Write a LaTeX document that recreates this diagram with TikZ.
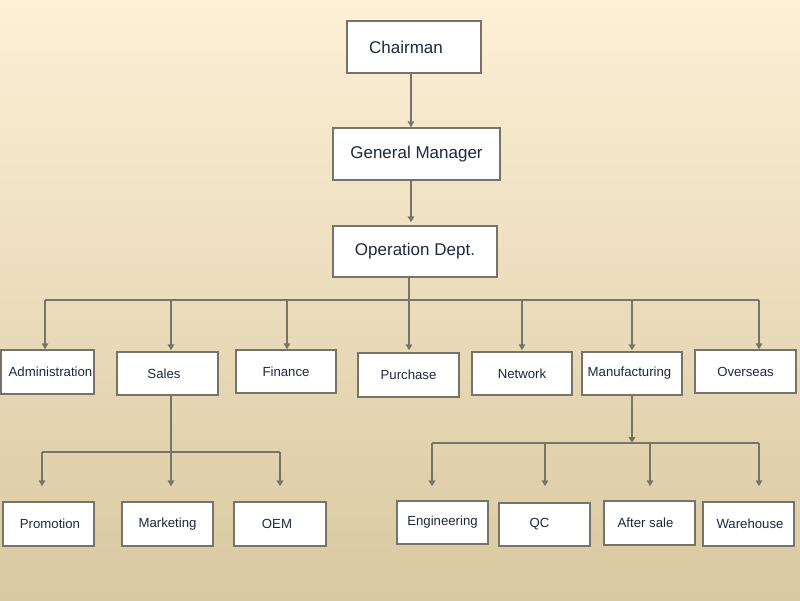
\documentclass[tikz,border=0pt]{standalone}
\usepackage{fontspec}
\setmainfont{Liberation Sans}
\usetikzlibrary{arrows.meta}
\definecolor{bgtop}{RGB}{252,240,214}
\definecolor{bgmid}{RGB}{241,233,213}
\definecolor{bgbot}{RGB}{217,201,161}
\definecolor{linec}{RGB}{122,116,104}
\definecolor{boxc}{RGB}{120,114,104}
\definecolor{txtc}{RGB}{30,40,62}
\newcommand{\tshift}[1]{\hspace*{#1}}
\tikzset{
  x=1pt, y=-1pt,
  box/.style={draw=boxc, fill=white, line width=1.4pt, inner sep=0pt, text=txtc, font=\fontsize{13.2}{15}\selectfont},
  topbox/.style={box, font=\fontsize{17}{20}\selectfont},
  conn/.style={draw=linec, line width=1.5pt},
  arr/.style={conn, -{Triangle[width=6.5pt,length=6pt]}},
}
\begin{document}
\begin{tikzpicture}
\shade[top color=bgtop, middle color=bgmid, bottom color=bgbot] (0,0) rectangle (800,600);
\useasboundingbox (0,0) rectangle (800,600);

% top chain
\node[topbox, minimum width=134pt, minimum height=52pt] (chair) at (414,47) {\tshift{-16pt}Chairman};
\node[topbox, minimum width=167pt, minimum height=52pt] (gm) at (416.5,154) {General Manager};
\node[topbox, minimum width=164pt, minimum height=51pt] (op) at (415,251.5) {Operation Dept.};

% level 2
\node[box, minimum width=93pt, minimum height=44pt] (admin) at (47.5,372) {\tshift{6pt}Administration};
\node[box, minimum width=101pt, minimum height=43pt] (sales) at (167.5,373.5) {\tshift{-7pt}Sales};
\node[box, minimum width=100pt, minimum height=43pt] (fin) at (286,371.5) {Finance};
\node[box, minimum width=101pt, minimum height=44pt] (pur) at (408.5,375) {Purchase};
\node[box, minimum width=100pt, minimum height=43pt] (net) at (522,373.5) {Network};
\node[box, minimum width=100pt, minimum height=43pt] (man) at (632,373.5) {\tshift{-5pt}Manufacturing};
\node[box, minimum width=101pt, minimum height=43pt] (over) at (745.5,371.5) {Overseas};

% level 3
\node[box, minimum width=91pt, minimum height=44pt] (promo) at (48.5,524) {\tshift{3pt}Promotion};
\node[box, minimum width=91pt, minimum height=44pt] (mkt) at (167.5,524) {Marketing};
\node[box, minimum width=92pt, minimum height=44pt] (oem) at (280,524) {\tshift{-6pt}OEM};
\node[box, minimum width=91pt, minimum height=43pt] (eng) at (442.5,522.5) {Engineering};
\node[box, minimum width=91pt, minimum height=43pt] (qc) at (544.5,524.5) {\tshift{-10pt}QC};
\node[box, minimum width=91pt, minimum height=44pt] (after) at (649.5,523) {\tshift{-8pt}After sale};
\node[box, minimum width=91pt, minimum height=44pt] (ware) at (748.5,524) {\tshift{3pt}Warehouse};

% top connectors
\coordinate (a1) at (411,100);
\coordinate (a2) at (411,200);
\draw[arr] (chair.south -| a1) -- (gm.north -| a1);
\draw[arr, shorten >=3pt] (gm.south -| a2) -- (op.north -| a2);

% main bus
\coordinate (bus) at (409,300);
\coordinate (b1) at (45,300);
\coordinate (b2) at (171,300);
\coordinate (b3) at (287,300);
\coordinate (b4) at (409,300);
\coordinate (b5) at (522,300);
\coordinate (b6) at (632,300);
\coordinate (b7) at (759,300);
\draw[conn] (op.south -| bus) -- (bus);
\draw[conn] (b1) -- (b7);
\draw[arr] (b1) -- (b1 |- admin.north);
\draw[arr, shorten >=1pt] (b2) -- (b2 |- sales.north);
\draw[arr] (b3) -- (b3 |- fin.north);
\draw[arr, shorten >=2pt] (b4) -- (b4 |- pur.north);
\draw[arr, shorten >=1pt] (b5) -- (b5 |- net.north);
\draw[arr, shorten >=1pt] (b6) -- (b6 |- man.north);
\draw[arr] (b7) -- (b7 |- over.north);

% sales sub-bus
\coordinate (s0) at (171,452);
\coordinate (s1) at (42,452);
\coordinate (s2) at (171,452);
\coordinate (s3) at (280,452);
\draw[conn] (sales.south -| s0) -- (s0);
\draw[conn] (s1) -- (s3);
\draw[arr, shorten >=15pt] (s1) -- (s1 |- promo.north);
\draw[arr, shorten >=15pt] (s2) -- (s2 |- mkt.north);
\draw[arr, shorten >=15pt] (s3) -- (s3 |- oem.north);

% manufacturing sub-bus
\coordinate (m0) at (632,443);
\coordinate (m1) at (432,443);
\coordinate (m2) at (545,443);
\coordinate (m3) at (650,443);
\coordinate (m4) at (759,443);
\draw[arr] (man.south -| m0) -- (m0);
\draw[conn] (m1) -- (m4);
\draw[arr, shorten >=14pt] (m1) -- (m1 |- eng.north);
\draw[arr, shorten >=16pt] (m2) -- (m2 |- qc.north);
\draw[arr, shorten >=14pt] (m3) -- (m3 |- after.north);
\draw[arr, shorten >=15pt] (m4) -- (m4 |- ware.north);
\end{tikzpicture}
\end{document}
